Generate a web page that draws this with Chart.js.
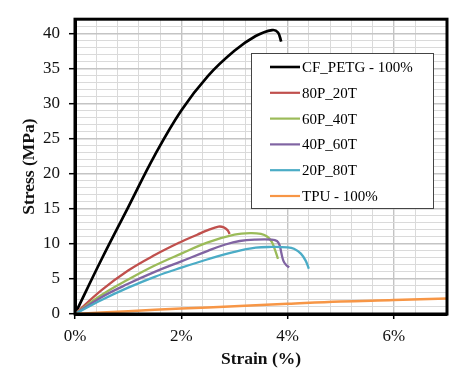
<!DOCTYPE html>
<html>
<head>
<meta charset="utf-8">
<script src="https://cdn.jsdelivr.net/npm/chart.js@4.4.0/dist/chart.umd.min.js"></script>
<style>
  html, body { margin: 0; padding: 0; background: #fff; }
  #wrap { width: 474px; height: 387px; }
</style>
</head>
<body>
<div id="wrap"><canvas id="c" width="474" height="387"></canvas></div>
<script>
// ---- data (strain in %, stress in MPa) ----
const seriesLabels = ["CF_PETG - 100%", "80P_20T", "60P_40T", "40P_60T", "20P_80T", "TPU - 100%"];
const seriesColors = ["#000000", "#c0504d", "#9bbb59", "#8064a2", "#4bacc6", "#f79646"];

const cfStrain = [0, 0.5, 1.0, 1.5, 2.0, 2.5, 3.0, 3.4, 3.71, 3.82, 3.88];
const cfStress = [0, 7.8, 15.2, 22.6, 29.0, 33.9, 37.5, 39.6, 40.45, 40.1, 38.8];

const p80Strain = [0, 0.5, 1.0, 1.5, 2.0, 2.3, 2.5, 2.7, 2.8, 2.87, 2.91];
const p80Stress = [0, 3.4, 6.2, 8.4, 10.3, 11.3, 11.95, 12.45, 12.35, 11.95, 11.4];

const p60Strain = [0, 0.5, 1.0, 1.5, 2.0, 2.5, 3.0, 3.3, 3.5, 3.62, 3.7, 3.76, 3.82];
const p60Stress = [0, 2.7, 4.9, 6.9, 8.6, 10.2, 11.3, 11.53, 11.4, 11.0, 10.3, 9.2, 7.85];

const p40Strain = [0, 0.5, 1.0, 1.5, 2.0, 2.5, 2.83, 3.1, 3.4, 3.7, 3.8, 3.85, 3.88, 3.92, 3.97, 4.03];
const p40Stress = [0, 2.4, 4.3, 6.0, 7.5, 9.0, 9.9, 10.4, 10.6, 10.6, 10.4, 9.8, 8.8, 7.6, 7.0, 6.65];

const p20Strain = [0, 0.5, 1.0, 1.5, 2.0, 2.5, 3.0, 3.4, 3.7, 4.0, 4.12, 4.25, 4.34, 4.4];
const p20Stress = [0, 2.0, 3.75, 5.3, 6.6, 7.8, 8.85, 9.45, 9.55, 9.5, 9.3, 8.6, 7.6, 6.45];

const tpuStrain = [0, 1, 2, 3, 4, 5, 6, 7];
const tpuStress = [0, 0.4, 0.78, 1.1, 1.45, 1.78, 1.98, 2.22];

const xTickLabels = ["0%", "2%", "4%", "6%"];
const yTickLabels = ["0", "5", "10", "15", "20", "25", "30", "35", "40"];

// ---- build ----
const strains = [cfStrain, p80Strain, p60Strain, p40Strain, p20Strain, tpuStrain];
const stresses = [cfStress, p80Stress, p60Stress, p40Stress, p20Stress, tpuStress];
const widths = [2.7, 2.3, 2.3, 2.3, 2.3, 2.5];

const datasets = seriesLabels.map((lab, i) => ({
  label: lab,
  data: strains[i].map((x, k) => ({ x: x, y: stresses[i][k] })),
  borderColor: seriesColors[i],
  backgroundColor: seriesColors[i],
  borderWidth: widths[i],
  pointRadius: 0,
  showLine: true,
  fill: false,
  tension: 0.4
})).reverse();

const isMult = (v, m) => Math.abs(v / m - Math.round(v / m)) < 1e-6;

const serif = "'Liberation Serif', 'Times New Roman', serif";

const boxPlugin = {
  id: 'boxAndLegend',
  afterDatasetsDraw(chart) {
    const { ctx, chartArea: a } = chart;
    ctx.save();
    ctx.strokeStyle = '#000';
    ctx.lineWidth = 3;
    ctx.strokeRect(a.left, a.top, a.right - a.left, a.bottom - a.top);
    ctx.restore();
  },
  afterDraw(chart) {
    const { ctx } = chart;
    const lx = 251, ly = 53, lw = 182, lh = 155;
    ctx.save();
    ctx.fillStyle = '#fff';
    ctx.fillRect(lx, ly, lw, lh);
    ctx.strokeStyle = '#444';
    ctx.lineWidth = 1;
    ctx.strokeRect(lx + 0.5, ly + 0.5, lw, lh);
    ctx.font = "15px " + serif;
    ctx.textBaseline = 'middle';
    ctx.fillStyle = '#000';
    seriesLabels.forEach((lab, i) => {
      const y = 67 + i * 25.8;
      ctx.strokeStyle = seriesColors[i];
      ctx.lineWidth = i === 0 ? 2.6 : 2.2;
      ctx.beginPath();
      ctx.moveTo(270, y);
      ctx.lineTo(300, y);
      ctx.stroke();
      ctx.fillText(lab, 302, y + 1);
    });
    ctx.restore();
  }
};

new Chart(document.getElementById('c'), {
  type: 'scatter',
  data: { datasets },
  options: {
    responsive: false,
    animation: false,
    devicePixelRatio: 1,
    layout: { padding: { top: 16, right: 27, left: 0, bottom: 0 } },
    plugins: { legend: { display: false }, tooltip: { enabled: false } },
    scales: {
      x: {
        type: 'linear',
        min: 0, max: 7,
        afterFit(s) { s.height = 73; },
        ticks: {
          stepSize: 0.4,
          autoSkip: false,
          maxRotation: 0,
          padding: 7,
          color: '#111',
          font: { family: serif, size: 17 },
          callback(v) {
            if (!isMult(v, 2)) return '';
            return xTickLabels[Math.round(v / 2)] || '';
          }
        },
        grid: {
          color: (c) => (c.tick && isMult(c.tick.value, 2)) ? '#c4c4c4' : '#dadada',
          lineWidth: (c) => (c.tick && isMult(c.tick.value, 2)) ? 1.4 : 1,
          tickLength: 5,
          tickColor: (c) => (c.tick && isMult(c.tick.value, 2)) ? '#000' : 'rgba(0,0,0,0)',
          tickWidth: 1.5
        },
        border: { display: true, color: '#000', width: 3 },
        title: {
          display: true,
          text: 'Strain (%)',
          color: '#111',
          font: { family: serif, size: 17.5, weight: 'bold' },
          padding: { top: 0, bottom: 17 }
        }
      },
      y: {
        type: 'linear',
        min: 0, max: 42,
        afterFit(s) { s.width = 75; },
        ticks: {
          stepSize: 1,
          autoSkip: false,
          padding: 9,
          color: '#111',
          font: { family: serif, size: 17 },
          callback(v) {
            if (!isMult(v, 5)) return '';
            return yTickLabels[Math.round(v / 5)] || '';
          }
        },
        grid: {
          color: (c) => (c.tick && isMult(c.tick.value, 5)) ? '#c4c4c4' : '#dadada',
          lineWidth: (c) => (c.tick && isMult(c.tick.value, 5)) ? 1.4 : 1,
          tickLength: 6,
          tickColor: (c) => (c.tick && isMult(c.tick.value, 5)) ? '#000' : 'rgba(0,0,0,0)',
          tickWidth: 1.5
        },
        border: { display: true, color: '#000', width: 3 },
        title: {
          display: true,
          text: 'Stress (MPa)',
          color: '#111',
          font: { family: serif, size: 17.5, weight: 'bold' },
          padding: { top: 19, bottom: 0 }
        }
      }
    }
  },
  plugins: [boxPlugin]
});
</script>
</body>
</html>
